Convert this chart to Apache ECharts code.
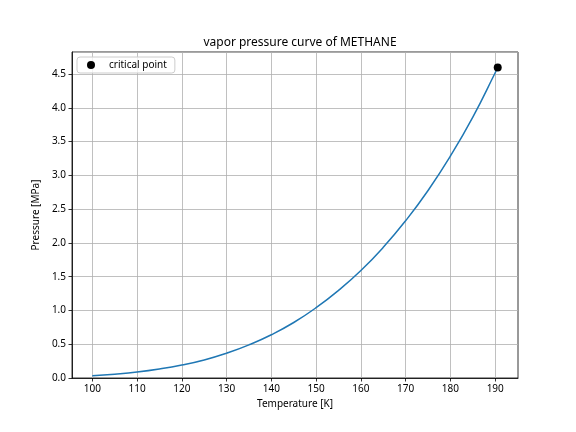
<!DOCTYPE html>
<html>
<head>
<meta charset="utf-8">
<script src="https://cdn.jsdelivr.net/npm/echarts@6/dist/echarts.min.js"></script>
<style>
  html, body { margin: 0; padding: 0; background: #fff; }
  #chart { width: 576px; height: 432px; }
</style>
</head>
<body>
<div id="chart"></div>
<script>
// saturation temperature [K] and pressure [MPa]
var temps = [100, 105, 110, 115, 120, 125, 130, 135, 140, 145, 150, 155, 160, 165, 170, 175, 180, 185, 190, 190.56];
var pressures = [0.034, 0.057, 0.088, 0.133, 0.192, 0.268, 0.368, 0.491, 0.641, 0.822, 1.041, 1.298, 1.592, 1.935, 2.329, 2.777, 3.287, 3.863, 4.520, 4.599];
var critical = [190.56, 4.599];
var xTicks = [100, 110, 120, 130, 140, 150, 160, 170, 180, 190];

var fontName = 'Noto Sans';
var chartDom = document.getElementById('chart');
var myChart = echarts.init(chartDom, null, { renderer: 'canvas' });
var option;

var curve = temps.map(function (t, i) { return [t, pressures[i]]; });

option = {
  animation: false,
  textStyle: { fontFamily: fontName },
  title: {
    text: 'vapor pressure curve of METHANE',
    left: 295,
    top: 32,
    textAlign: 'center',
    textStyle: { fontFamily: fontName, fontSize: 12, fontWeight: 'normal', color: '#000' }
  },
  legend: {
    left: 77,
    top: 57,
    orient: 'vertical',
    padding: [3, 8, 3, 10],
    itemGap: 4,
    itemWidth: 8,
    itemHeight: 8,
    borderColor: '#cccccc',
    borderWidth: 1,
    borderRadius: 3,
    backgroundColor: 'rgba(255,255,255,0.8)',
    textStyle: { fontFamily: fontName, fontSize: 10, color: '#000', padding: [0, 0, 0, 9] },
    data: [{ name: 'critical point', icon: 'circle', itemStyle: { color: '#000', opacity: 1 } }]
  },
  grid: {
    left: 72,
    right: 58,
    top: 52,
    bottom: 54,
    show: true,
    borderColor: '#000',
    borderWidth: 0.8,
    backgroundColor: 'transparent'
  },
  xAxis: {
    type: 'value',
    min: 95.47,
    max: 195.09,
    name: 'Temperature [K]',
    nameLocation: 'middle',
    nameGap: 20,
    nameTextStyle: { fontFamily: fontName, fontSize: 10, color: '#000' },
    axisLine: { show: true, onZero: false, lineStyle: { color: '#000', width: 0.8 } },
    axisTick: { show: true, length: 3.5, customValues: xTicks, lineStyle: { color: '#000', width: 0.8 } },
    axisLabel: { customValues: xTicks, color: '#000', fontSize: 10, margin: 6, fontFamily: fontName },
    splitLine: { show: true, lineStyle: { color: '#b0b0b0', width: 0.8 } }
  },
  yAxis: {
    type: 'value',
    min: 0,
    max: 4.827,
    interval: 0.5,
    name: 'Pressure [MPa]',
    nameLocation: 'middle',
    nameGap: 29,
    nameTextStyle: { fontFamily: fontName, fontSize: 10, color: '#000' },
    axisLine: { show: true, lineStyle: { color: '#000', width: 0.8 } },
    axisTick: { show: true, length: 3.5, lineStyle: { color: '#000', width: 0.8 } },
    axisLabel: {
      color: '#000', fontSize: 10, margin: 6, fontFamily: fontName,
      formatter: function (v) { return v.toFixed(1); },
      showMaxLabel: false
    },
    splitLine: { show: true, lineStyle: { color: '#b0b0b0', width: 0.8 } }
  },
  series: [
    {
      name: 'vapor pressure',
      type: 'line',
      data: curve,
      smooth: true,
      showSymbol: false,
      symbol: 'none',
      lineStyle: { color: '#1f77b4', width: 1.5 },
      z: 2
    },
    {
      name: 'critical point',
      type: 'scatter',
      data: [critical],
      symbol: 'circle',
      symbolSize: 8,
      itemStyle: { color: '#000', opacity: 1 },
      z: 3
    }
  ]
};

option && myChart.setOption(option);
</script>
</body>
</html>
